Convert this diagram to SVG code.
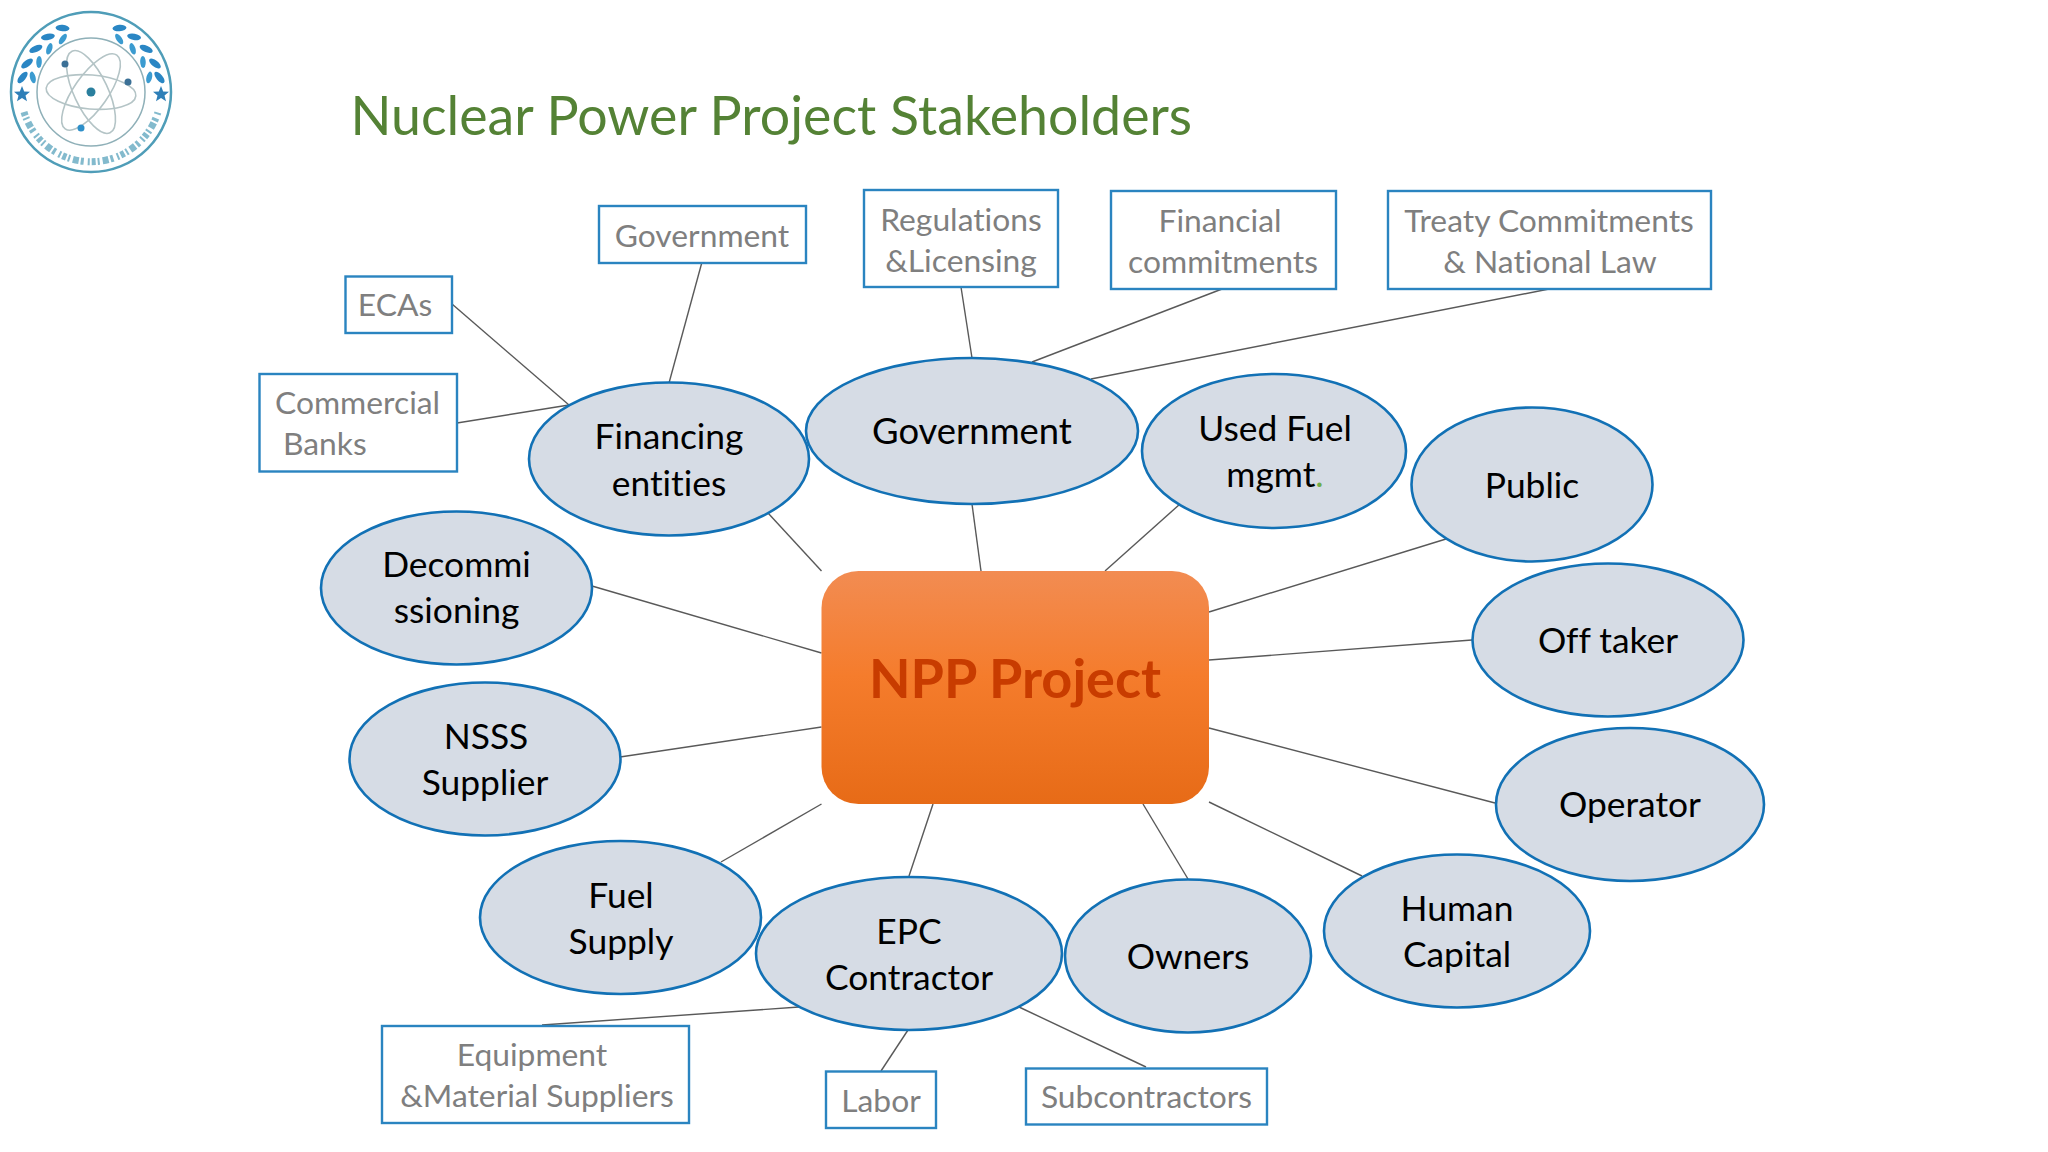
<svg xmlns="http://www.w3.org/2000/svg" width="2048" height="1152" viewBox="0 0 2048 1152">
<defs>
<linearGradient id="org" x1="0" y1="0" x2="0" y2="1"><stop offset="0" stop-color="#f28c52"/><stop offset="0.45" stop-color="#f57c2c"/><stop offset="1" stop-color="#e76b17"/></linearGradient>
<ellipse id="la" cx="91" cy="22" rx="7" ry="3.200" fill="#2a86c4" transform="rotate(28 91 22)"/>
<ellipse id="lb" cx="91" cy="32" rx="6" ry="2.800" fill="#3a9bd0" transform="rotate(-28 91 32)"/>
<path id="arcb" d="M24 112 A70 70 0 0 0 158 112"/>
<filter id="soft" x="-5%" y="-5%" width="110%" height="110%"><feGaussianBlur stdDeviation="0.5"/></filter>
</defs>
<style>
text{font-family:Lato,"Liberation Sans",sans-serif;font-variant-ligatures:none}
.n ellipse{fill:#d6dce5;stroke:#1271b5;stroke-width:2.6}
.n text{font-size:35.400px;fill:#000;text-anchor:middle}
.b rect{fill:#fff;stroke:#2a84c0;stroke-width:2.400}
.b text{font-size:31.800px;fill:#7f7f7f;text-anchor:middle}
#connectors line{stroke:#595959;stroke-width:1.400}
</style>
<rect width="2048" height="1152" fill="#fff"/>
<g id="logo" fill="none" filter="url(#soft)">
<circle cx="91" cy="92" r="80" stroke="#4f9db8" stroke-width="2.500"/>
<circle cx="91" cy="92" r="54" stroke="#8fb0b8" stroke-width="1.500"/>
<g stroke="#b4c4c6" stroke-width="1.600">
<ellipse cx="91" cy="92" rx="45" ry="17" transform="rotate(5 91 92)"/>
<ellipse cx="91" cy="92" rx="45" ry="17" transform="rotate(65 91 92)"/>
<ellipse cx="91" cy="92" rx="45" ry="17" transform="rotate(125 91 92)"/>
</g>
<circle cx="91" cy="92" r="4.500" fill="#2a7f9e"/><circle cx="65" cy="64" r="3.500" fill="#3a6f96"/><circle cx="128" cy="82" r="3.500" fill="#3a6f96"/><circle cx="81" cy="128" r="3.500" fill="#2e8fc9"/>
<use href="#la" transform="rotate(-24 91 92)"/><use href="#la" transform="rotate(-38 91 92)"/><use href="#la" transform="rotate(-52 91 92)"/><use href="#la" transform="rotate(-66 91 92)"/><use href="#la" transform="rotate(-78 91 92)"/>
<use href="#lb" transform="rotate(-28 91 92)"/><use href="#lb" transform="rotate(-44 91 92)"/><use href="#lb" transform="rotate(-60 91 92)"/><use href="#lb" transform="rotate(-76 91 92)"/>
<g transform="translate(182 0) scale(-1 1)">
<use href="#la" transform="rotate(-24 91 92)"/><use href="#la" transform="rotate(-38 91 92)"/><use href="#la" transform="rotate(-52 91 92)"/><use href="#la" transform="rotate(-66 91 92)"/><use href="#la" transform="rotate(-78 91 92)"/>
<use href="#lb" transform="rotate(-28 91 92)"/><use href="#lb" transform="rotate(-44 91 92)"/><use href="#lb" transform="rotate(-60 91 92)"/><use href="#lb" transform="rotate(-76 91 92)"/>
</g>
<path d="M22 86l2.200 5.500 5.800.3-4.500 3.700 1.500 5.700-5-3.200-5 3.200 1.500-5.700-4.500-3.700 5.800-.3z" fill="#2e7fb8"/>
<path d="M161 86l2.200 5.500 5.800.3-4.500 3.700 1.500 5.700-5-3.200-5 3.200 1.500-5.700-4.500-3.700 5.800-.3z" fill="#2e7fb8"/>
<use href="#arcb" stroke="#4f9db8" stroke-width="7" stroke-dasharray="4 2 2 3 6 2 3 4 2 2" opacity="0.7"/>
</g>
<text id="title" x="350.500" y="135" font-size="53.700" fill="#548235">Nuclear Power Project Stakeholders</text>
<g id="connectors">
<line x1="452" y1="304" x2="569" y2="405"/>
<line x1="457" y1="423" x2="569" y2="405"/>
<line x1="702" y1="262" x2="669" y2="383"/>
<line x1="961" y1="287" x2="972" y2="358"/>
<line x1="1222" y1="289" x2="1032" y2="362"/>
<line x1="1549" y1="289" x2="1091" y2="379"/>
<line x1="768" y1="513" x2="821.500" y2="571"/>
<line x1="972" y1="504" x2="981" y2="571"/>
<line x1="1180" y1="504" x2="1105" y2="571"/>
<line x1="1446" y1="539" x2="1209" y2="612"/>
<line x1="1472" y1="640" x2="1209" y2="660"/>
<line x1="1495" y1="803" x2="1209" y2="728"/>
<line x1="1362" y1="876" x2="1209" y2="802"/>
<line x1="1188" y1="879" x2="1143" y2="804"/>
<line x1="909" y1="876" x2="933" y2="804"/>
<line x1="721" y1="862" x2="821.500" y2="804"/>
<line x1="620" y1="757" x2="821.500" y2="727"/>
<line x1="592" y1="586" x2="821.500" y2="653"/>
<line x1="542" y1="1025" x2="799" y2="1007"/>
<line x1="881" y1="1071" x2="908" y2="1030"/>
<line x1="1146" y1="1067" x2="1019" y2="1007"/>
</g>
<g id="npp"><rect x="821.500" y="571" width="387.500" height="233" rx="37" fill="url(#org)"/><text x="1015" y="698" font-size="54" font-weight="700" fill="#c83c00" text-anchor="middle">NPP Project</text></g>
<g id="financing" class="n"><ellipse cx="669" cy="459" rx="140" ry="76.500"/><text x="669" y="449">Financing</text><text x="669" y="495.500">entities</text></g>
<g id="government" class="n"><ellipse cx="972" cy="431" rx="166" ry="73"/><text x="972" y="444" style="font-size:36.400px">Government</text></g>
<g id="usedfuel" class="n"><ellipse cx="1274" cy="451" rx="132" ry="77"/><text x="1275" y="441">Used Fuel</text><text x="1275" y="487">mgmt<tspan fill="#70ad47">.</tspan></text></g>
<g id="public" class="n"><ellipse cx="1532" cy="484.500" rx="120.500" ry="77"/><text x="1532" y="498">Public</text></g>
<g id="offtaker" class="n"><ellipse cx="1608" cy="640" rx="135.500" ry="76.500"/><text x="1608" y="653">Off taker</text></g>
<g id="operator" class="n"><ellipse cx="1630" cy="804.500" rx="134" ry="76.500"/><text x="1630" y="817">Operator</text></g>
<g id="human" class="n"><ellipse cx="1457" cy="931" rx="133" ry="76.500"/><text x="1457" y="921">Human</text><text x="1457" y="967">Capital</text></g>
<g id="owners" class="n"><ellipse cx="1188" cy="956" rx="123" ry="76.500"/><text x="1188" y="969">Owners</text></g>
<g id="epc" class="n"><ellipse cx="909" cy="953.500" rx="153" ry="76.500"/><text x="909" y="944">EPC</text><text x="909" y="990">Contractor</text></g>
<g id="fuel" class="n"><ellipse cx="620.500" cy="917.500" rx="140.500" ry="76.500"/><text x="621" y="908">Fuel</text><text x="621" y="954">Supply</text></g>
<g id="nsss" class="n"><ellipse cx="485" cy="759" rx="135.500" ry="76.500"/><text x="486" y="749">NSSS</text><text x="485" y="795">Supplier</text></g>
<g id="decom" class="n"><ellipse cx="456.500" cy="588" rx="135.500" ry="76.500"/><text x="456.500" y="577">Decommi</text><text x="456.500" y="623">ssioning</text></g>
<g id="b-gov" class="b"><rect x="599" y="206" width="207" height="57"/><text x="702" y="247">Government</text></g>
<g id="b-eca" class="b"><rect x="345.500" y="276.500" width="106.500" height="56.500"/><text x="395" y="316">ECAs</text></g>
<g id="b-com" class="b"><rect x="259.500" y="374" width="197.500" height="97.500"/><text x="275" y="414" style="text-anchor:start">Commercial</text><text x="283" y="455" style="text-anchor:start">Banks</text></g>
<g id="b-reg" class="b"><rect x="864" y="190" width="194" height="97"/><text x="961" y="231">Regulations</text><text x="961" y="272">&amp;Licensing</text></g>
<g id="b-fin" class="b"><rect x="1111" y="191" width="225" height="98"/><text x="1220" y="232">Financial</text><text x="1223" y="273">commitments</text></g>
<g id="b-tre" class="b"><rect x="1388" y="191" width="323" height="98"/><text x="1549" y="232">Treaty Commitments</text><text x="1550" y="273">&amp; National Law</text></g>
<g id="b-equ" class="b"><rect x="382" y="1026" width="307" height="97"/><text x="532" y="1066">Equipment</text><text x="537" y="1107">&amp;Material Suppliers</text></g>
<g id="b-lab" class="b"><rect x="826" y="1071.500" width="110" height="56.500"/><text x="881" y="1112">Labor</text></g>
<g id="b-sub" class="b"><rect x="1026" y="1068.500" width="241" height="56"/><text x="1146.500" y="1108">Subcontractors</text></g>
</svg>
